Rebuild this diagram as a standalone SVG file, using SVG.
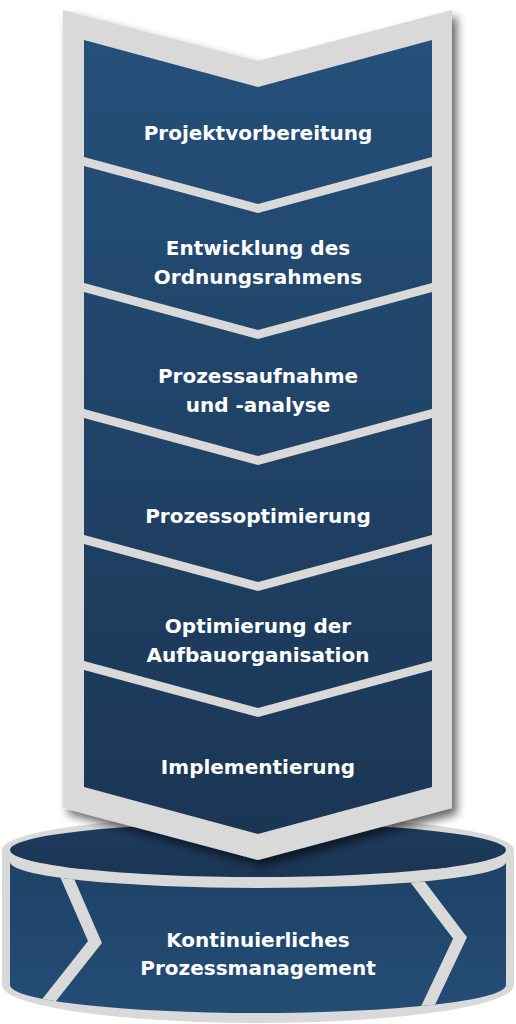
<svg xmlns="http://www.w3.org/2000/svg" width="516" height="1024" viewBox="0 0 516 1024">
<defs>
<linearGradient id="colGrad" gradientUnits="userSpaceOnUse" x1="0" y1="40" x2="0" y2="834">
<stop offset="0" stop-color="#25507a"/>
<stop offset="1" stop-color="#1b3654"/>
</linearGradient>
<linearGradient id="faceGrad" gradientUnits="userSpaceOnUse" x1="0" y1="822" x2="0" y2="878">
<stop offset="0" stop-color="#1e3c5e"/>
<stop offset="1" stop-color="#1b3553"/>
</linearGradient>
<linearGradient id="bandGrad" gradientUnits="userSpaceOnUse" x1="0" y1="862" x2="0" y2="1013">
<stop offset="0" stop-color="#1f4266"/>
<stop offset="1" stop-color="#244d76"/>
</linearGradient>
<filter id="shadow" x="-10%" y="-10%" width="130%" height="130%">
<feGaussianBlur in="SourceAlpha" stdDeviation="5"/>
<feOffset dx="5" dy="6" result="b"/>
<feComponentTransfer><feFuncA type="linear" slope="0.6"/></feComponentTransfer>
<feMerge><feMergeNode/><feMergeNode in="SourceGraphic"/></feMerge>
</filter>
<clipPath id="bandClip">
<path d="M10,862 A248,26 0 0 0 506,862 L506,985 A248,28 0 0 1 10,985 Z"/>
</clipPath>
</defs>
<style>
.gray{fill:#d9d9d9}
.seg{fill:url(#colGrad)}
.lbl{font-family:"DejaVu Sans","Liberation Sans",sans-serif;font-weight:bold;font-size:20px;fill:#ffffff;text-anchor:middle}
.stripe{fill:none;stroke:#d9d9d9;stroke-width:12;stroke-linejoin:miter}
</style>

<g id="cylinder">
<path class="gray" d="M2,850 A256,34 0 0 1 514,850 L514,985 A256,38 0 0 1 2,985 Z"/>
<ellipse cx="258" cy="850" rx="248" ry="27" fill="url(#faceGrad)"/>
<path d="M10,862 A248,26 0 0 0 506,862 L506,985 A248,28 0 0 1 10,985 Z" fill="url(#bandGrad)"/>
<g clip-path="url(#bandClip)">
<polyline class="stripe" points="62,866 95,942 46,1004"/>
<polyline class="stripe" points="410,872 460,938 425,1012"/>
</g>
<text class="lbl" x="258" y="947">Kontinuierliches</text>
<text class="lbl" x="258" y="975">Prozessmanagement</text>
</g>

<g id="column">
<polygon class="gray" filter="url(#shadow)" points="63,10 258,61 452,10 452,808 258,860 63,808"/>
<g id="step1">
<polygon class="seg" points="84,40 258,87 432,40 432,157 258,204 84,157"/>
<text class="lbl" x="258" y="140">Projektvorbereitung</text>
</g>
<g id="step2">
<polygon class="seg" points="84,166 258,213 432,166 432,283 258,330 84,283"/>
<text class="lbl" x="258" y="255">Entwicklung des</text>
<text class="lbl" x="258" y="284">Ordnungsrahmens</text>
</g>
<g id="step3">
<polygon class="seg" points="84,292 258,339 432,292 432,409 258,456 84,409"/>
<text class="lbl" x="258" y="383">Prozessaufnahme</text>
<text class="lbl" x="258" y="412">und -analyse</text>
</g>
<g id="step4">
<polygon class="seg" points="84,418 258,465 432,418 432,535 258,582 84,535"/>
<text class="lbl" x="258" y="523">Prozessoptimierung</text>
</g>
<g id="step5">
<polygon class="seg" points="84,544 258,591 432,544 432,661 258,708 84,661"/>
<text class="lbl" x="258" y="633">Optimierung der</text>
<text class="lbl" x="258" y="662">Aufbauorganisation</text>
</g>
<g id="step6">
<polygon class="seg" points="84,670 258,717 432,670 432,787 258,834 84,787"/>
<text class="lbl" x="258" y="774">Implementierung</text>
</g>
</g>
<g id="connectors"/>
</svg>
